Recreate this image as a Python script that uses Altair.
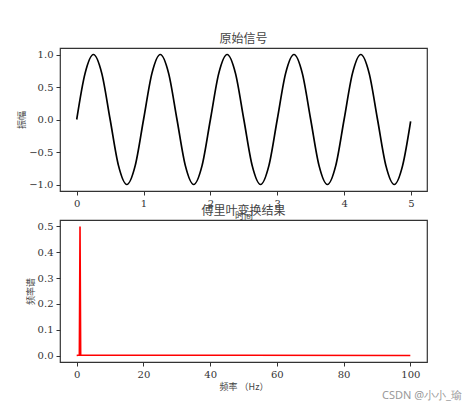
import altair as alt
import pandas as pd

# Original signal (1 Hz sine)
t = [0.0, 0.125, 0.25, 0.375, 0.5, 0.625, 0.75, 0.875,
     1.0, 1.125, 1.25, 1.375, 1.5, 1.625, 1.75, 1.875,
     2.0, 2.125, 2.25, 2.375, 2.5, 2.625, 2.75, 2.875,
     3.0, 3.125, 3.25, 3.375, 3.5, 3.625, 3.75, 3.875,
     4.0, 4.125, 4.25, 4.375, 4.5, 4.625, 4.75, 4.875, 4.995]
amp = [0.0, 0.71, 1.0, 0.71, 0.0, -0.71, -1.0, -0.71,
       0.0, 0.71, 1.0, 0.71, 0.0, -0.71, -1.0, -0.71,
       0.0, 0.71, 1.0, 0.71, 0.0, -0.71, -1.0, -0.71,
       0.0, 0.71, 1.0, 0.71, 0.0, -0.71, -1.0, -0.71,
       0.0, 0.71, 1.0, 0.71, 0.0, -0.71, -1.0, -0.71, -0.03]

# Spectrum
freq = [0.0, 0.8, 1.0, 1.2, 100.0]
spec = [0.0, 0.002, 0.5, 0.002, 0.0]

top_xticks = [0, 1, 2, 3, 4, 5]
top_yticks = [-1.0, -0.5, 0.0, 0.5, 1.0]
bot_xticks = [0, 20, 40, 60, 80, 100]
bot_yticks = [0.0, 0.1, 0.2, 0.3, 0.4, 0.5]

watermark = ["CSDN @小小_瑜"]

sig_df = pd.DataFrame({"t": t, "amp": amp})
spec_df = pd.DataFrame({"f": freq, "s": spec})
wm_df = pd.DataFrame({"w": watermark})

CJK = "Noto Sans CJK SC"
SERIF = "DejaVu Serif"


def axis(values, fmt, title, title_pad):
    return alt.Axis(values=values, format=fmt, title=title, grid=False, domain=False,
                    tickSize=4, tickColor="#333", labelFont=SERIF, labelFontSize=10,
                    labelColor="#333", titleFont=CJK, titleFontSize=9,
                    titleFontWeight="normal", titleColor="#444", labelPadding=3,
                    titlePadding=title_pad)


def title(text):
    return alt.Title(text, font=CJK, fontSize=12, fontWeight="normal", color="#444", offset=2)


top = alt.Chart(sig_df, title=title("原始信号")).mark_line(
    color="black", strokeWidth=1.7, interpolate="monotone"
).encode(
    x=alt.X("t:Q", scale=alt.Scale(domain=[-0.25, 5.24], nice=False, zero=False),
            axis=axis(top_xticks, "d", "时间", 3)),
    y=alt.Y("amp:Q", scale=alt.Scale(domain=[-1.1, 1.1], nice=False, zero=False),
            axis=axis(top_yticks, ".1f", "振幅", 2)),
).properties(width=367, height=143)

bot_line = alt.Chart(spec_df).mark_line(color="red", strokeWidth=1.6).encode(
    x=alt.X("f:Q", scale=alt.Scale(domain=[-5, 105], nice=False, zero=False),
            axis=axis(bot_xticks, "d", "频率 （Hz）", 3)),
    y=alt.Y("s:Q", scale=alt.Scale(domain=[-0.025, 0.525], nice=False, zero=False),
            axis=axis(bot_yticks, ".1f", "频率谱", 2)),
)

wm = alt.Chart(wm_df).mark_text(align="right", baseline="middle", fontSize=11,
                                color="#999", font="Noto Sans").encode(
    x=alt.value(402), y=alt.value(176), text="w:N")

bottom = alt.layer(bot_line, wm, title=title("傅里叶变换结果")).properties(width=367, height=142)

chart = alt.vconcat(top, bottom, spacing=29, bounds="flush").properties(
    padding={"left": 9, "top": 24, "right": 0, "bottom": 0},
).configure_view(stroke="#333", strokeWidth=1.2)

chart.save("out.html", embed_options={"renderer": "svg", "actions": False})
